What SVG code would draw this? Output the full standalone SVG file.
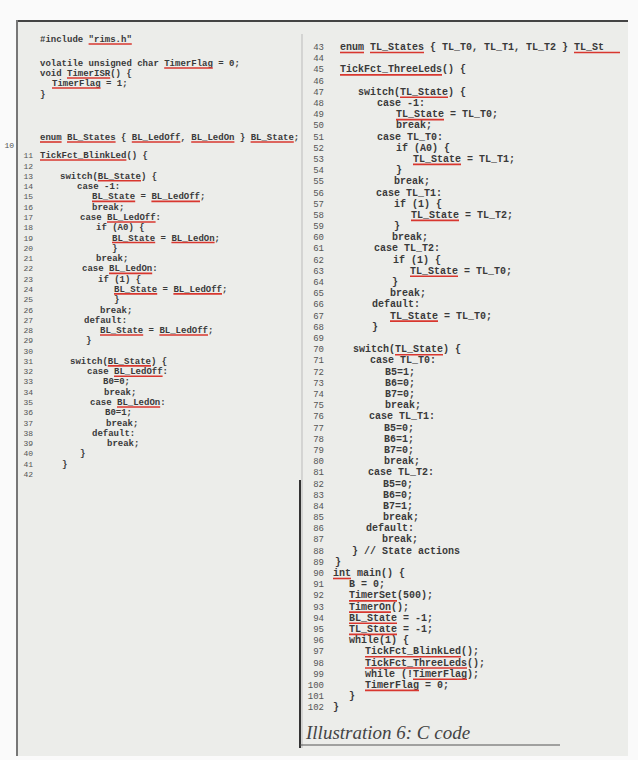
<svg xmlns="http://www.w3.org/2000/svg" width="638" height="760" viewBox="0 0 638 760">
<style>
.l{font-family:"Liberation Mono",monospace;font-size:9px;fill:#3a3a3a;font-weight:bold}
.r{font-family:"Liberation Mono",monospace;font-size:10px;fill:#3a3a3a;font-weight:bold}
.n{font-family:"Liberation Mono",monospace;fill:#555;text-anchor:end}
.u{stroke:#d8372f;stroke-width:1.6}
</style>
<rect width="638" height="760" fill="#fafafa"/>
<rect x="16" y="20" width="612" height="736" fill="#ecedea"/>
<line x1="16" y1="21" x2="628" y2="21" stroke="#444" stroke-width="2"/>
<line x1="17" y1="20" x2="17" y2="756" stroke="#777" stroke-width="2"/>
<line x1="302" y1="34" x2="302" y2="748" stroke="#bbb" stroke-width="1"/>
<line x1="300" y1="480" x2="300" y2="748" stroke="#333" stroke-width="2"/>
<g id="left-code" class="l">
<text x="40" y="42">#include "rims.h"</text>
<text x="40" y="66">volatile unsigned char TimerFlag = 0;</text>
<text x="40" y="76">void TimerISR() {</text>
<text x="52" y="86">TimerFlag = 1;</text>
<text x="40" y="97">}</text>
<text x="40" y="140">enum BL_States { BL_LedOff, BL_LedOn } BL_State;</text>
<text x="40" y="158">TickFct_BlinkLed() {</text>
<text x="60" y="178.8">switch(BL_State) {</text>
<text x="77" y="189.1">case -1:</text>
<text x="92" y="199.4">BL_State = BL_LedOff;</text>
<text x="92" y="209.7">break;</text>
<text x="80" y="220">case BL_LedOff:</text>
<text x="96" y="230.2">if (A0) {</text>
<text x="112" y="240.5">BL_State = BL_LedOn;</text>
<text x="112" y="250.8">}</text>
<text x="96" y="261.1">break;</text>
<text x="82" y="271.4">case BL_LedOn:</text>
<text x="98" y="281.6">if (1) {</text>
<text x="114" y="291.9">BL_State = BL_LedOff;</text>
<text x="114" y="302.2">}</text>
<text x="100" y="312.5">break;</text>
<text x="84" y="322.8">default:</text>
<text x="100" y="333">BL_State = BL_LedOff;</text>
<text x="86" y="343.3">}</text>
<text x="70" y="363.9">switch(BL_State) {</text>
<text x="87" y="374.2">case BL_LedOff:</text>
<text x="103" y="384.4">B0=0;</text>
<text x="104" y="394.7">break;</text>
<text x="90" y="405">case BL_LedOn:</text>
<text x="105" y="415.3">B0=1;</text>
<text x="106" y="425.6">break;</text>
<text x="92" y="435.8">default:</text>
<text x="107" y="446.1">break;</text>
<text x="80" y="456.4">}</text>
<text x="62" y="466.7">}</text>
</g>
<g id="left-numbers" class="n" font-size="8">
<text x="14" y="148">10</text><text x="33" y="158">11</text><text x="33" y="168.5">12</text><text x="33" y="178.8">13</text><text x="33" y="189.1">14</text><text x="33" y="199.4">15</text><text x="33" y="209.7">16</text><text x="33" y="220">17</text><text x="33" y="230.2">18</text><text x="33" y="240.5">19</text><text x="33" y="250.8">20</text><text x="33" y="261.1">21</text><text x="33" y="271.4">22</text><text x="33" y="281.6">23</text><text x="33" y="291.9">24</text><text x="33" y="302.2">25</text><text x="33" y="312.5">26</text><text x="33" y="322.8">27</text><text x="33" y="333">28</text><text x="33" y="343.3">29</text><text x="33" y="353.6">30</text><text x="33" y="363.9">31</text><text x="33" y="374.2">32</text><text x="33" y="384.4">33</text><text x="33" y="394.7">34</text><text x="33" y="405">35</text><text x="33" y="415.3">36</text><text x="33" y="425.6">37</text><text x="33" y="435.8">38</text><text x="33" y="446.1">39</text><text x="33" y="456.4">40</text><text x="33" y="466.7">41</text><text x="33" y="477">42</text>
</g>
<g id="left-underlines" class="u">
<line x1="88.6" y1="44" x2="131.8" y2="44"/>
<line x1="164.2" y1="68" x2="212.8" y2="68"/>
<line x1="67" y1="78" x2="110.2" y2="78"/>
<line x1="52" y1="88" x2="100.6" y2="88"/>
<line x1="40" y1="142" x2="61.6" y2="142"/>
<line x1="67" y1="142" x2="115.6" y2="142"/>
<line x1="131.8" y1="142" x2="180.4" y2="142"/>
<line x1="191.2" y1="142" x2="234.4" y2="142"/>
<line x1="250.6" y1="142" x2="293.8" y2="142"/>
<line x1="40" y1="160" x2="126.4" y2="160"/>
<line x1="97.8" y1="180.8" x2="141" y2="180.8"/>
<line x1="92" y1="201.4" x2="135.2" y2="201.4"/>
<line x1="151.4" y1="201.4" x2="200" y2="201.4"/>
<line x1="107" y1="222" x2="155.6" y2="222"/>
<line x1="112" y1="242.5" x2="155.2" y2="242.5"/>
<line x1="171.4" y1="242.5" x2="214.6" y2="242.5"/>
<line x1="109" y1="273.4" x2="152.2" y2="273.4"/>
<line x1="114" y1="293.9" x2="157.2" y2="293.9"/>
<line x1="173.4" y1="293.9" x2="222" y2="293.9"/>
<line x1="100" y1="335" x2="143.2" y2="335"/>
<line x1="159.4" y1="335" x2="208" y2="335"/>
<line x1="107.8" y1="365.9" x2="151" y2="365.9"/>
<line x1="114" y1="376.2" x2="162.6" y2="376.2"/>
<line x1="117" y1="407" x2="160.2" y2="407"/>
</g>
<g id="right-code" class="r">
<text x="340" y="50">enum TL_States { TL_T0, TL_T1, TL_T2 } TL_St</text>
<text x="340" y="72.4">TickFct_ThreeLeds() {</text>
<text x="358" y="94.8">switch(TL_State) {</text>
<text x="377" y="105.9">case -1:</text>
<text x="396" y="117.1">TL_State = TL_T0;</text>
<text x="396" y="128.3">break;</text>
<text x="377" y="139.5">case TL_T0:</text>
<text x="396" y="150.7">if (A0) {</text>
<text x="413" y="161.9">TL_State = TL_T1;</text>
<text x="396" y="173.1">}</text>
<text x="394" y="184.3">break;</text>
<text x="376" y="195.5">case TL_T1:</text>
<text x="394" y="206.7">if (1) {</text>
<text x="411" y="217.9">TL_State = TL_T2;</text>
<text x="394" y="229">}</text>
<text x="392" y="240.2">break;</text>
<text x="374" y="251.4">case TL_T2:</text>
<text x="393" y="262.6">if (1) {</text>
<text x="410" y="273.8">TL_State = TL_T0;</text>
<text x="392" y="285">}</text>
<text x="390" y="296.2">break;</text>
<text x="372" y="307.4">default:</text>
<text x="390" y="318.6">TL_State = TL_T0;</text>
<text x="372" y="329.8">}</text>
<text x="353" y="352.2">switch(TL_State) {</text>
<text x="370" y="363.3">case TL_T0:</text>
<text x="385" y="374.5">B5=1;</text>
<text x="385" y="385.7">B6=0;</text>
<text x="385" y="396.9">B7=0;</text>
<text x="385" y="408.1">break;</text>
<text x="369" y="419.3">case TL_T1:</text>
<text x="384" y="430.5">B5=0;</text>
<text x="384" y="441.7">B6=1;</text>
<text x="384" y="452.9">B7=0;</text>
<text x="384" y="464.1">break;</text>
<text x="368" y="475.3">case TL_T2:</text>
<text x="383" y="486.5">B5=0;</text>
<text x="383" y="497.6">B6=0;</text>
<text x="383" y="508.8">B7=1;</text>
<text x="383" y="520">break;</text>
<text x="366" y="531.2">default:</text>
<text x="382" y="542.4">break;</text>
<text x="352" y="553.6">} // State actions</text>
<text x="335" y="564.8">}</text>
<text x="333" y="576">int main() {</text>
<text x="349" y="587.2">B = 0;</text>
<text x="349" y="598.4">TimerSet(500);</text>
<text x="349" y="609.6">TimerOn();</text>
<text x="349" y="620.8">BL_State = -1;</text>
<text x="349" y="631.9">TL_State = -1;</text>
<text x="349" y="643.1">while(1) {</text>
<text x="365" y="654.3">TickFct_BlinkLed();</text>
<text x="365" y="665.5">TickFct_ThreeLeds();</text>
<text x="365" y="676.7">while (!TimerFlag);</text>
<text x="365" y="687.9">TimerFlag = 0;</text>
<text x="349" y="699.1">}</text>
<text x="333" y="710.3">}</text>
</g>
<g id="right-numbers" class="n" font-size="9">
<text x="324" y="50">43</text><text x="324" y="61.2">44</text><text x="324" y="72.4">45</text><text x="324" y="83.6">46</text><text x="324" y="94.8">47</text><text x="324" y="105.9">48</text><text x="324" y="117.1">49</text><text x="324" y="128.3">50</text><text x="324" y="139.5">51</text><text x="324" y="150.7">52</text><text x="324" y="161.9">53</text><text x="324" y="173.1">54</text><text x="324" y="184.3">55</text><text x="324" y="195.5">56</text><text x="324" y="206.7">57</text><text x="324" y="217.9">58</text><text x="324" y="229">59</text><text x="324" y="240.2">60</text><text x="324" y="251.4">61</text><text x="324" y="262.6">62</text><text x="324" y="273.8">63</text><text x="324" y="285">64</text><text x="324" y="296.2">65</text><text x="324" y="307.4">66</text><text x="324" y="318.6">67</text><text x="324" y="329.8">68</text><text x="324" y="341">69</text><text x="324" y="352.2">70</text><text x="324" y="363.3">71</text><text x="324" y="374.5">72</text><text x="324" y="385.7">73</text><text x="324" y="396.9">74</text><text x="324" y="408.1">75</text><text x="324" y="419.3">76</text><text x="324" y="430.5">77</text><text x="324" y="441.7">78</text><text x="324" y="452.9">79</text><text x="324" y="464.1">80</text><text x="324" y="475.3">81</text><text x="324" y="486.5">82</text><text x="324" y="497.6">83</text><text x="324" y="508.8">84</text><text x="324" y="520">85</text><text x="324" y="531.2">86</text><text x="324" y="542.4">87</text><text x="324" y="553.6">88</text><text x="324" y="564.8">89</text><text x="324" y="576">90</text><text x="324" y="587.2">91</text><text x="324" y="598.4">92</text><text x="324" y="609.6">93</text><text x="324" y="620.8">94</text><text x="324" y="631.9">95</text><text x="324" y="643.1">96</text><text x="324" y="654.3">97</text><text x="324" y="665.5">98</text><text x="324" y="676.7">99</text><text x="324" y="687.9">100</text><text x="324" y="699.1">101</text><text x="324" y="710.3">102</text>
</g>
<g id="right-underlines" class="u">
<line x1="340" y1="52.5" x2="364" y2="52.5"/>
<line x1="370" y1="52.5" x2="424" y2="52.5"/>
<line x1="574" y1="52.5" x2="620" y2="52.5"/>
<line x1="340" y1="74.9" x2="442" y2="74.9"/>
<line x1="400" y1="97.3" x2="448" y2="97.3"/>
<line x1="396" y1="119.6" x2="444" y2="119.6"/>
<line x1="413" y1="164.4" x2="461" y2="164.4"/>
<line x1="411" y1="220.4" x2="459" y2="220.4"/>
<line x1="410" y1="276.3" x2="458" y2="276.3"/>
<line x1="390" y1="321.1" x2="438" y2="321.1"/>
<line x1="395" y1="354.7" x2="443" y2="354.7"/>
<line x1="333" y1="578.5" x2="351" y2="578.5"/>
<line x1="349" y1="600.9" x2="397" y2="600.9"/>
<line x1="349" y1="612.1" x2="391" y2="612.1"/>
<line x1="349" y1="623.3" x2="397" y2="623.3"/>
<line x1="349" y1="634.4" x2="397" y2="634.4"/>
<line x1="365" y1="656.8" x2="461" y2="656.8"/>
<line x1="365" y1="668" x2="467" y2="668"/>
<line x1="413" y1="679.2" x2="467" y2="679.2"/>
<line x1="365" y1="690.4" x2="419" y2="690.4"/>
</g>
<g id="caption">
<text x="306" y="739" font-family="Liberation Serif,serif" font-style="italic" font-size="19" fill="#444">Illustration 6: C code</text>
<line x1="300" y1="745" x2="560" y2="745" stroke="#555" stroke-width="1"/>
</g>
</svg>
